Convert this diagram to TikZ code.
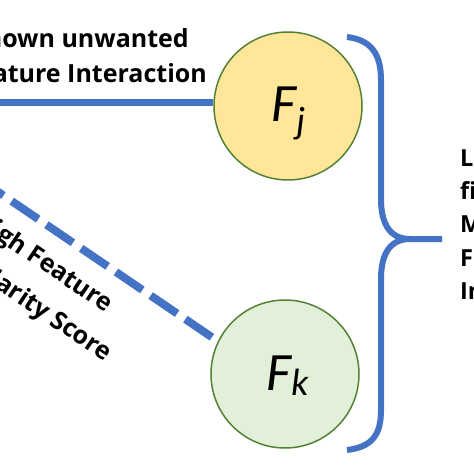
\documentclass[tikz,border=0pt]{standalone}
\usepackage{fontspec}
\setmainfont{Carlito}
\newfontfamily\segfont{Open Sans}
\definecolor{bblue}{HTML}{4472C4}
\definecolor{cgreen}{HTML}{548235}
\definecolor{cyellow}{HTML}{FFE699}
\definecolor{clgreen}{HTML}{E2F0D9}
\tikzset{
  feat/.style={circle, draw=cgreen, line width=1.5bp, minimum size=148bp, inner sep=0pt},
  lbl/.style={font=\segfont\fontsize{25bp}{30bp}\selectfont\bfseries, inner sep=0pt, text=black},
  rlbl/.style={font=\segfont\fontsize{23.5bp}{28bp}\selectfont\bfseries, inner sep=0pt, text=black, anchor=base west},
  flbl/.style={font=\fontsize{54bp}{54bp}\selectfont\itshape, inner sep=0pt, anchor=base west},
  conn/.style={draw=bblue, line width=7bp},
}
\begin{document}
\begin{tikzpicture}[x=1bp,y=-1bp]
\useasboundingbox (0,0) rectangle (474,474);
\clip (0,0) rectangle (474,474);
\fill[white] (0,0) rectangle (474,474);

% feature circles
\node[feat, fill=cyellow] (Fj) at (288,106) {};
\node[feat, fill=clgreen] (Fk) at (285,374) {};
\node[flbl] (Fjl) at (271,122) {F\raisebox{-12bp}{\fontsize{38bp}{38bp}\selectfont j}};
\node[flbl] (Fkl) at (266,390) {F\raisebox{-5bp}{\fontsize{38bp}{38bp}\selectfont k}};

% connectors
\coordinate (L1) at (-5,103);
\draw[conn] (L1) -- (L1 -| Fj.west);
\coordinate (L2) at (-23,177.5);
\draw[conn, line width=8bp, dash pattern=on 32bp off 10bp] (L2) -- (Fk.154);

% brace
\coordinate (tip) at (442,239);
\draw[draw=bblue, line width=6bp]
  (347,37) .. controls (372,40) and (381,55) .. (381,80) -- (381,199)
  .. controls (381,224) and (390,239) .. (410,239) -- (tip);
\draw[draw=bblue, line width=6bp]
  (410,239) .. controls (390,239) and (381,254) .. (381,279) -- (381,410)
  .. controls (381,435) and (372,447) .. (347,450);

% texts
\node[lbl, anchor=base east] (t1) at (189,48) {nown unwanted};
\node[lbl, anchor=base east] (t2) at (207,83) {ature Interaction};
\node[lbl, anchor=base east, rotate=-34] (t3) at (106,313) {igh Feature};
\node[lbl, anchor=base east, rotate=-34] (t4) at (105,362) {larity Score};
\node[rlbl] (r1) at (460,167) {L};
\node[rlbl] (r2) at (460,200) {fi};
\node[rlbl] (r3) at (460,233) {M};
\node[rlbl] (r4) at (460,266) {F};
\node[rlbl] (r5) at (460,299) {In};
\end{tikzpicture}
\end{document}
